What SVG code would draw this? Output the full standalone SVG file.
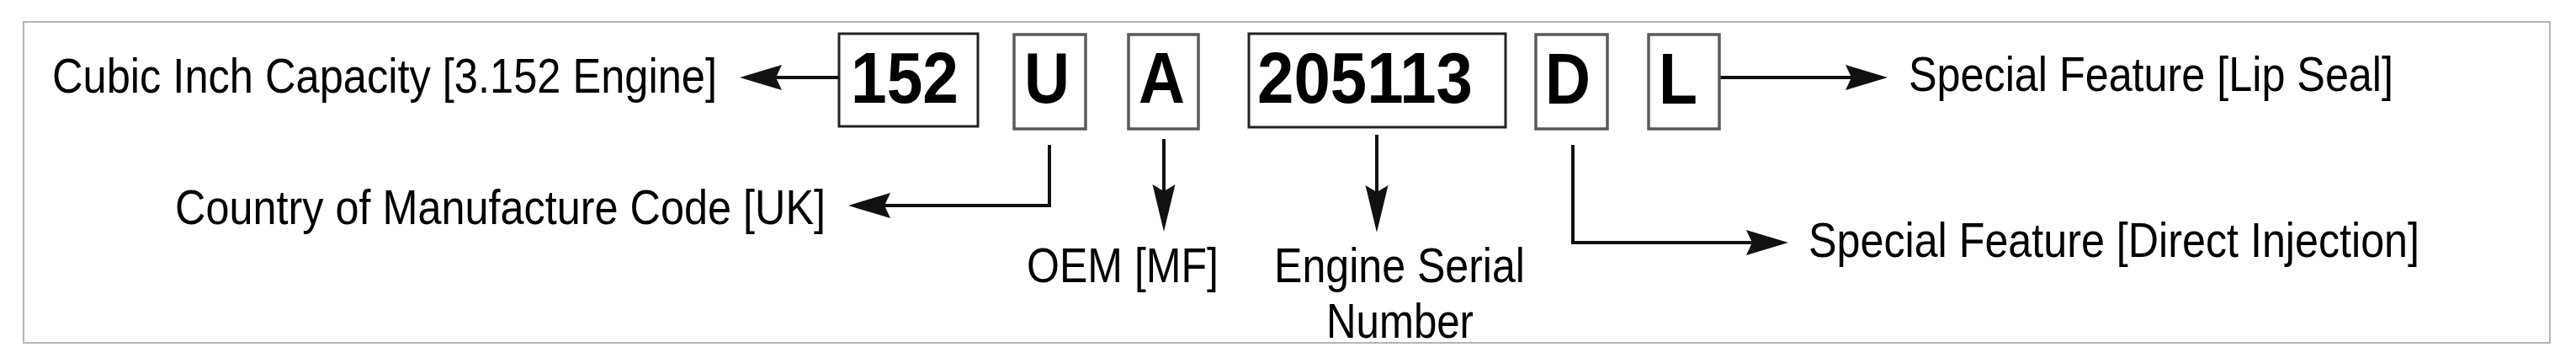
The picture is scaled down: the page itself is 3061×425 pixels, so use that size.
<svg xmlns="http://www.w3.org/2000/svg" width="3061" height="425" viewBox="0 0 3061 425">
<style>
.frame{fill:#fff;stroke:#b4b4b4;stroke-width:2}
.box{fill:#fff;stroke:#222;stroke-width:3}
.box2{fill:#fff;stroke:#5a5a5a;stroke-width:3.5}
.code{font-family:"Liberation Sans",Arial,sans-serif;font-weight:bold;font-size:86px;fill:#000}
.lbl{font-family:"Liberation Sans",Arial,sans-serif;font-size:57px;fill:#000}
.con{fill:none;stroke:#111;stroke-width:4;stroke-linejoin:miter}
.h{marker-end:url(#ahH)}
.v{marker-end:url(#ahV)}
</style>
<defs>
<marker id="ahH" markerUnits="userSpaceOnUse" orient="auto" viewBox="0 -15 50 30" markerWidth="50" markerHeight="30" refX="10" refY="0">
<path d="M0,-15 L50,0 L0,15 L7,0 Z" fill="#111"/>
</marker>
<marker id="ahV" markerUnits="userSpaceOnUse" orient="auto" viewBox="0 -14 56 28" markerWidth="56" markerHeight="28" refX="11" refY="0">
<path d="M0,-13.5 L56,0 L0,13.5 L8,0 Z" fill="#111"/>
</marker>
</defs>
<rect class="frame" x="28" y="26" width="3002" height="381"/>
<g id="connectors">
<path class="con h" d="M996 92 H919"/>
<path class="con h" d="M1247 172 V244 H1048"/>
<path class="con v" d="M1383 165 V230"/>
<path class="con v" d="M1636 160 V231"/>
<path class="con h" d="M1869 172 V288 H2085"/>
<path class="con h" d="M2043 92 H2203"/>
</g>
<g id="n152">
<rect class="box" x="997" y="40" width="165" height="110"/>
<text class="code" x="1011" y="122" textLength="128" lengthAdjust="spacingAndGlyphs">152</text>
</g>
<g id="nU">
<rect class="box2" x="1205" y="41" width="85" height="112"/>
<text class="code" x="1217" y="122" textLength="54" lengthAdjust="spacingAndGlyphs">U</text>
</g>
<g id="nA">
<rect class="box2" x="1341" y="41" width="83" height="112"/>
<text class="code" x="1353" y="122" textLength="55" lengthAdjust="spacingAndGlyphs">A</text>
</g>
<g id="n205113">
<rect class="box" x="1484" y="40" width="305" height="111"/>
<text class="code" x="1494" y="122" textLength="256" lengthAdjust="spacingAndGlyphs">205113</text>
</g>
<g id="nD">
<rect class="box2" x="1825" y="41" width="85" height="112"/>
<text class="code" x="1836" y="123" textLength="54" lengthAdjust="spacingAndGlyphs">D</text>
</g>
<g id="nL">
<rect class="box2" x="1959" y="41" width="84" height="112"/>
<text class="code" x="1971" y="123" textLength="46" lengthAdjust="spacingAndGlyphs">L</text>
</g>
<g id="lblCubic">
<text class="lbl" x="62" y="110" textLength="790" lengthAdjust="spacingAndGlyphs">Cubic Inch Capacity [3.152 Engine]</text>
</g>
<g id="lblCountry">
<text class="lbl" x="208" y="266" textLength="773" lengthAdjust="spacingAndGlyphs">Country of Manufacture Code [UK]</text>
</g>
<g id="lblOEM">
<text class="lbl" x="1220" y="335" textLength="228" lengthAdjust="spacingAndGlyphs">OEM [MF]</text>
</g>
<g id="lblSerial">
<text class="lbl" x="1514" y="335" textLength="298" lengthAdjust="spacingAndGlyphs">Engine Serial</text>
<text class="lbl" x="1576" y="401" textLength="175" lengthAdjust="spacingAndGlyphs">Number</text>
</g>
<g id="lblLip">
<text class="lbl" x="2268" y="108" textLength="576" lengthAdjust="spacingAndGlyphs">Special Feature [Lip Seal]</text>
</g>
<g id="lblDirect">
<text class="lbl" x="2149" y="305" textLength="726" lengthAdjust="spacingAndGlyphs">Special Feature [Direct Injection]</text>
</g>
</svg>
